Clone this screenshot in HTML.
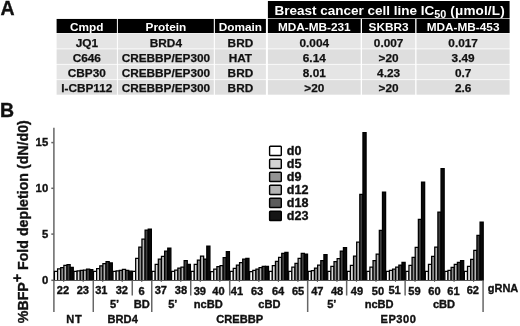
<!DOCTYPE html>
<html><head><meta charset="utf-8"><title>Figure</title>
<style>
html,body{margin:0;padding:0;background:#fff;}
body{width:520px;height:326px;position:relative;overflow:hidden;font-family:"Liberation Sans",sans-serif;font-weight:bold;color:#111;}
.chart{position:absolute;left:0;top:0;}
</style></head><body>
<svg class="chart" width="520" height="326" viewBox="0 0 520 326">
<g stroke="#666" stroke-width="1.5" fill="none">
<line x1="53.9" y1="127.7" x2="53.9" y2="312"/>
<line x1="63.66" y1="280.0" x2="63.66" y2="281.9" stroke-width="1.1"/>
<line x1="83.18" y1="280.0" x2="83.18" y2="281.9" stroke-width="1.1"/>
<line x1="102.70" y1="280.0" x2="102.70" y2="281.9" stroke-width="1.1"/>
<line x1="122.22" y1="280.0" x2="122.22" y2="281.9" stroke-width="1.1"/>
<line x1="141.74" y1="280.0" x2="141.74" y2="281.9" stroke-width="1.1"/>
<line x1="161.26" y1="280.0" x2="161.26" y2="281.9" stroke-width="1.1"/>
<line x1="180.78" y1="280.0" x2="180.78" y2="281.9" stroke-width="1.1"/>
<line x1="200.30" y1="280.0" x2="200.30" y2="281.9" stroke-width="1.1"/>
<line x1="219.82" y1="280.0" x2="219.82" y2="281.9" stroke-width="1.1"/>
<line x1="239.34" y1="280.0" x2="239.34" y2="281.9" stroke-width="1.1"/>
<line x1="258.86" y1="280.0" x2="258.86" y2="281.9" stroke-width="1.1"/>
<line x1="278.38" y1="280.0" x2="278.38" y2="281.9" stroke-width="1.1"/>
<line x1="297.90" y1="280.0" x2="297.90" y2="281.9" stroke-width="1.1"/>
<line x1="317.42" y1="280.0" x2="317.42" y2="281.9" stroke-width="1.1"/>
<line x1="336.94" y1="280.0" x2="336.94" y2="281.9" stroke-width="1.1"/>
<line x1="356.46" y1="280.0" x2="356.46" y2="281.9" stroke-width="1.1"/>
<line x1="375.98" y1="280.0" x2="375.98" y2="281.9" stroke-width="1.1"/>
<line x1="395.50" y1="280.0" x2="395.50" y2="281.9" stroke-width="1.1"/>
<line x1="415.02" y1="280.0" x2="415.02" y2="281.9" stroke-width="1.1"/>
<line x1="434.54" y1="280.0" x2="434.54" y2="281.9" stroke-width="1.1"/>
<line x1="454.06" y1="280.0" x2="454.06" y2="281.9" stroke-width="1.1"/>
<line x1="473.58" y1="280.0" x2="473.58" y2="281.9" stroke-width="1.1"/>
<line x1="51.3" y1="280.3" x2="53.9" y2="280.3"/>
<line x1="51.3" y1="234.1" x2="53.9" y2="234.1"/>
<line x1="51.3" y1="188.3" x2="53.9" y2="188.3"/>
<line x1="51.3" y1="142.6" x2="53.9" y2="142.6"/>
<line x1="93.28" y1="280.0" x2="93.28" y2="312"/>
<line x1="151.75" y1="280.0" x2="151.75" y2="312"/>
<line x1="307.67" y1="280.0" x2="307.67" y2="312"/>
<line x1="483.08" y1="280.0" x2="483.08" y2="312"/>
<line x1="132.26" y1="280.0" x2="132.26" y2="295.5"/>
<line x1="190.73" y1="280.0" x2="190.73" y2="295.5"/>
<line x1="229.71" y1="280.0" x2="229.71" y2="295.5"/>
<line x1="346.65" y1="280.0" x2="346.65" y2="295.5"/>
<line x1="405.12" y1="280.0" x2="405.12" y2="295.5"/>
</g>
<g stroke="#000" stroke-width="1.25">
<path d="M54.45 280.2V271.25H57.59V280.2" fill="#ffffff"/>
<path d="M57.59 280.2V268.90H60.73V280.2" fill="#dadada"/>
<path d="M60.73 280.2V267.50H63.87V280.2" fill="#8c8c8c"/>
<path d="M63.87 280.2V265.40H67.01V280.2" fill="#b4b4b4"/>
<path d="M67.01 280.2V264.50H70.15V280.2" fill="#404040"/>
<path d="M70.15 280.2V267.25H73.29V280.2" fill="#0a0a0a"/>
<path d="M73.97 280.2V271.25H77.11V280.2" fill="#ffffff"/>
<path d="M77.11 280.2V270.75H80.25V280.2" fill="#dadada"/>
<path d="M80.25 280.2V270.25H83.39V280.2" fill="#8c8c8c"/>
<path d="M83.39 280.2V270.00H86.53V280.2" fill="#b4b4b4"/>
<path d="M86.53 280.2V269.10H89.67V280.2" fill="#404040"/>
<path d="M89.67 280.2V269.50H92.81V280.2" fill="#0a0a0a"/>
<path d="M93.49 280.2V271.25H96.63V280.2" fill="#ffffff"/>
<path d="M96.63 280.2V268.50H99.77V280.2" fill="#dadada"/>
<path d="M99.77 280.2V265.75H102.91V280.2" fill="#8c8c8c"/>
<path d="M102.91 280.2V263.50H106.05V280.2" fill="#b4b4b4"/>
<path d="M106.05 280.2V261.60H109.19V280.2" fill="#404040"/>
<path d="M109.19 280.2V262.90H112.33V280.2" fill="#0a0a0a"/>
<path d="M113.01 280.2V271.40H116.15V280.2" fill="#ffffff"/>
<path d="M116.15 280.2V270.80H119.29V280.2" fill="#dadada"/>
<path d="M119.29 280.2V270.40H122.43V280.2" fill="#8c8c8c"/>
<path d="M122.43 280.2V269.40H125.57V280.2" fill="#b4b4b4"/>
<path d="M125.57 280.2V270.40H128.71V280.2" fill="#404040"/>
<path d="M128.71 280.2V271.20H131.85V280.2" fill="#0a0a0a"/>
<path d="M132.53 280.2V271.40H135.67V280.2" fill="#ffffff"/>
<path d="M135.67 280.2V258.40H138.81V280.2" fill="#dadada"/>
<path d="M138.81 280.2V247.00H141.95V280.2" fill="#8c8c8c"/>
<path d="M141.95 280.2V239.20H145.09V280.2" fill="#b4b4b4"/>
<path d="M145.09 280.2V230.00H148.23V280.2" fill="#404040"/>
<path d="M148.23 280.2V229.00H151.37V280.2" fill="#0a0a0a"/>
<path d="M152.05 280.2V271.40H155.19V280.2" fill="#ffffff"/>
<path d="M155.19 280.2V264.40H158.33V280.2" fill="#dadada"/>
<path d="M158.33 280.2V259.00H161.47V280.2" fill="#8c8c8c"/>
<path d="M161.47 280.2V256.40H164.61V280.2" fill="#b4b4b4"/>
<path d="M164.61 280.2V251.00H167.75V280.2" fill="#404040"/>
<path d="M167.75 280.2V248.00H170.89V280.2" fill="#0a0a0a"/>
<path d="M171.57 280.2V271.40H174.71V280.2" fill="#ffffff"/>
<path d="M174.71 280.2V270.00H177.85V280.2" fill="#dadada"/>
<path d="M177.85 280.2V268.00H180.99V280.2" fill="#8c8c8c"/>
<path d="M180.99 280.2V267.00H184.13V280.2" fill="#b4b4b4"/>
<path d="M184.13 280.2V260.60H187.27V280.2" fill="#404040"/>
<path d="M187.27 280.2V264.40H190.41V280.2" fill="#0a0a0a"/>
<path d="M191.09 280.2V271.40H194.23V280.2" fill="#ffffff"/>
<path d="M194.23 280.2V264.40H197.37V280.2" fill="#dadada"/>
<path d="M197.37 280.2V260.00H200.51V280.2" fill="#8c8c8c"/>
<path d="M200.51 280.2V256.00H203.65V280.2" fill="#b4b4b4"/>
<path d="M203.65 280.2V259.00H206.79V280.2" fill="#404040"/>
<path d="M206.79 280.2V246.00H209.93V280.2" fill="#0a0a0a"/>
<path d="M210.61 280.2V271.60H213.75V280.2" fill="#ffffff"/>
<path d="M213.75 280.2V269.00H216.89V280.2" fill="#dadada"/>
<path d="M216.89 280.2V266.60H220.03V280.2" fill="#8c8c8c"/>
<path d="M220.03 280.2V265.60H223.17V280.2" fill="#b4b4b4"/>
<path d="M223.17 280.2V257.60H226.31V280.2" fill="#404040"/>
<path d="M226.31 280.2V251.60H229.45V280.2" fill="#0a0a0a"/>
<path d="M230.13 280.2V271.40H233.27V280.2" fill="#ffffff"/>
<path d="M233.27 280.2V268.40H236.41V280.2" fill="#dadada"/>
<path d="M236.41 280.2V265.00H239.55V280.2" fill="#8c8c8c"/>
<path d="M239.55 280.2V262.60H242.69V280.2" fill="#b4b4b4"/>
<path d="M242.69 280.2V259.00H245.83V280.2" fill="#404040"/>
<path d="M245.83 280.2V258.40H248.97V280.2" fill="#0a0a0a"/>
<path d="M249.65 280.2V271.60H252.79V280.2" fill="#ffffff"/>
<path d="M252.79 280.2V270.40H255.93V280.2" fill="#dadada"/>
<path d="M255.93 280.2V269.20H259.07V280.2" fill="#8c8c8c"/>
<path d="M259.07 280.2V267.60H262.21V280.2" fill="#b4b4b4"/>
<path d="M262.21 280.2V266.40H265.35V280.2" fill="#404040"/>
<path d="M265.35 280.2V266.40H268.49V280.2" fill="#0a0a0a"/>
<path d="M269.17 280.2V271.40H272.31V280.2" fill="#ffffff"/>
<path d="M272.31 280.2V265.60H275.45V280.2" fill="#dadada"/>
<path d="M275.45 280.2V261.40H278.59V280.2" fill="#8c8c8c"/>
<path d="M278.59 280.2V257.40H281.73V280.2" fill="#b4b4b4"/>
<path d="M281.73 280.2V253.40H284.87V280.2" fill="#404040"/>
<path d="M284.87 280.2V252.40H288.01V280.2" fill="#0a0a0a"/>
<path d="M288.69 280.2V271.40H291.83V280.2" fill="#ffffff"/>
<path d="M291.83 280.2V267.00H294.97V280.2" fill="#dadada"/>
<path d="M294.97 280.2V263.40H298.11V280.2" fill="#8c8c8c"/>
<path d="M298.11 280.2V258.40H301.25V280.2" fill="#b4b4b4"/>
<path d="M301.25 280.2V253.40H304.39V280.2" fill="#404040"/>
<path d="M304.39 280.2V254.00H307.53V280.2" fill="#0a0a0a"/>
<path d="M308.21 280.2V271.40H311.35V280.2" fill="#ffffff"/>
<path d="M311.35 280.2V270.60H314.49V280.2" fill="#dadada"/>
<path d="M314.49 280.2V268.00H317.63V280.2" fill="#8c8c8c"/>
<path d="M317.63 280.2V265.00H320.77V280.2" fill="#b4b4b4"/>
<path d="M320.77 280.2V260.60H323.91V280.2" fill="#404040"/>
<path d="M323.91 280.2V254.60H327.05V280.2" fill="#0a0a0a"/>
<path d="M327.73 280.2V271.40H330.87V280.2" fill="#ffffff"/>
<path d="M330.87 280.2V266.40H334.01V280.2" fill="#dadada"/>
<path d="M334.01 280.2V261.60H337.15V280.2" fill="#8c8c8c"/>
<path d="M337.15 280.2V258.60H340.29V280.2" fill="#b4b4b4"/>
<path d="M340.29 280.2V251.00H343.43V280.2" fill="#404040"/>
<path d="M343.43 280.2V247.60H346.57V280.2" fill="#0a0a0a"/>
<path d="M347.25 280.2V271.40H350.39V280.2" fill="#ffffff"/>
<path d="M350.39 280.2V265.40H353.53V280.2" fill="#dadada"/>
<path d="M353.53 280.2V256.00H356.67V280.2" fill="#8c8c8c"/>
<path d="M356.67 280.2V242.00H359.81V280.2" fill="#b4b4b4"/>
<path d="M359.81 280.2V194.40H362.95V280.2" fill="#404040"/>
<path d="M362.95 280.2V132.60H366.09V280.2" fill="#0a0a0a"/>
<path d="M366.77 280.2V271.40H369.91V280.2" fill="#ffffff"/>
<path d="M369.91 280.2V267.00H373.05V280.2" fill="#dadada"/>
<path d="M373.05 280.2V260.60H376.19V280.2" fill="#8c8c8c"/>
<path d="M376.19 280.2V254.00H379.33V280.2" fill="#b4b4b4"/>
<path d="M379.33 280.2V230.40H382.47V280.2" fill="#404040"/>
<path d="M382.47 280.2V192.00H385.61V280.2" fill="#0a0a0a"/>
<path d="M386.29 280.2V271.40H389.43V280.2" fill="#ffffff"/>
<path d="M389.43 280.2V270.40H392.57V280.2" fill="#dadada"/>
<path d="M392.57 280.2V269.00H395.71V280.2" fill="#8c8c8c"/>
<path d="M395.71 280.2V267.00H398.85V280.2" fill="#b4b4b4"/>
<path d="M398.85 280.2V265.00H401.99V280.2" fill="#404040"/>
<path d="M401.99 280.2V262.40H405.13V280.2" fill="#0a0a0a"/>
<path d="M405.81 280.2V271.40H408.95V280.2" fill="#ffffff"/>
<path d="M408.95 280.2V265.40H412.09V280.2" fill="#dadada"/>
<path d="M412.09 280.2V257.40H415.23V280.2" fill="#8c8c8c"/>
<path d="M415.23 280.2V247.40H418.37V280.2" fill="#b4b4b4"/>
<path d="M418.37 280.2V219.40H421.51V280.2" fill="#404040"/>
<path d="M421.51 280.2V182.00H424.65V280.2" fill="#0a0a0a"/>
<path d="M425.33 280.2V271.40H428.47V280.2" fill="#ffffff"/>
<path d="M428.47 280.2V264.40H431.61V280.2" fill="#dadada"/>
<path d="M431.61 280.2V256.40H434.75V280.2" fill="#8c8c8c"/>
<path d="M434.75 280.2V247.00H437.89V280.2" fill="#b4b4b4"/>
<path d="M437.89 280.2V212.00H441.03V280.2" fill="#404040"/>
<path d="M441.03 280.2V168.60H444.17V280.2" fill="#0a0a0a"/>
<path d="M444.85 280.2V271.40H447.99V280.2" fill="#ffffff"/>
<path d="M447.99 280.2V270.40H451.13V280.2" fill="#dadada"/>
<path d="M451.13 280.2V267.40H454.27V280.2" fill="#8c8c8c"/>
<path d="M454.27 280.2V264.40H457.41V280.2" fill="#b4b4b4"/>
<path d="M457.41 280.2V262.40H460.55V280.2" fill="#404040"/>
<path d="M460.55 280.2V260.60H463.69V280.2" fill="#0a0a0a"/>
<path d="M464.37 280.2V271.40H467.51V280.2" fill="#ffffff"/>
<path d="M467.51 280.2V266.40H470.65V280.2" fill="#dadada"/>
<path d="M470.65 280.2V259.40H473.79V280.2" fill="#8c8c8c"/>
<path d="M473.79 280.2V250.40H476.93V280.2" fill="#b4b4b4"/>
<path d="M476.93 280.2V235.40H480.07V280.2" fill="#404040"/>
<path d="M480.07 280.2V222.00H483.21V280.2" fill="#0a0a0a"/>
</g>
<line x1="53.199999999999996" y1="280.55" x2="483.9" y2="280.55" stroke="#555" stroke-width="1.1"/>
<g font-family="'Liberation Sans', sans-serif" font-weight="bold" fill="#111" stroke="#111" stroke-width="0.35" text-anchor="middle">
<text x="48.2" y="284.0" font-size="11.3" text-anchor="end">0</text>
<text x="48.2" y="237.79999999999998" font-size="11.3" text-anchor="end">5</text>
<text x="48.2" y="192.0" font-size="11.3" text-anchor="end">10</text>
<text x="48.2" y="146.29999999999998" font-size="11.3" text-anchor="end">15</text>
<text transform="translate(62.9,294.2) scale(1,1.06)" font-size="11.1">22</text>
<text transform="translate(82.8,294.2) scale(1,1.06)" font-size="11.1">23</text>
<text transform="translate(101.3,294.0) scale(1,1.06)" font-size="11.1">31</text>
<text transform="translate(121.8,294.2) scale(1,1.06)" font-size="11.1">32</text>
<text transform="translate(141.6,295.4) scale(1,1.06)" font-size="11.1">6</text>
<text transform="translate(160.8,294.1) scale(1,1.06)" font-size="11.1">37</text>
<text transform="translate(181.0,294.0) scale(1,1.06)" font-size="11.1">38</text>
<text transform="translate(199.8,295.4) scale(1,1.06)" font-size="11.1">39</text>
<text transform="translate(218.5,295.4) scale(1,1.06)" font-size="11.1">40</text>
<text transform="translate(237.0,295.4) scale(1,1.06)" font-size="11.1">41</text>
<text transform="translate(257.1,295.4) scale(1,1.06)" font-size="11.1">63</text>
<text transform="translate(278.1,295.4) scale(1,1.06)" font-size="11.1">64</text>
<text transform="translate(298.1,295.4) scale(1,1.06)" font-size="11.1">65</text>
<text transform="translate(317.3,295.4) scale(1,1.06)" font-size="11.1">47</text>
<text transform="translate(337.1,295.4) scale(1,1.06)" font-size="11.1">48</text>
<text transform="translate(357.0,295.4) scale(1,1.06)" font-size="11.1">49</text>
<text transform="translate(378.0,295.4) scale(1,1.06)" font-size="11.1">50</text>
<text transform="translate(394.6,294.2) scale(1,1.06)" font-size="11.1">51</text>
<text transform="translate(414.5,295.4) scale(1,1.06)" font-size="11.1">59</text>
<text transform="translate(434.5,294.9) scale(1,1.06)" font-size="11.1">60</text>
<text transform="translate(453.5,294.9) scale(1,1.06)" font-size="11.1">61</text>
<text transform="translate(472.8,293.8) scale(1,1.06)" font-size="11.1">62</text>
<text transform="translate(114.5,308.1) scale(1,1.06)" font-size="11.1">5’</text>
<text transform="translate(141.8,308.1) scale(1,1.06)" font-size="11.1">BD</text>
<text transform="translate(172.8,308.1) scale(1,1.06)" font-size="11.1">5’</text>
<text transform="translate(208.3,308.1) scale(1,1.06)" font-size="11.1">ncBD</text>
<text transform="translate(269.3,308.1) scale(1,1.06)" font-size="11.1">cBD</text>
<text transform="translate(331.8,308.1) scale(1,1.06)" font-size="11.1">5’</text>
<text transform="translate(379.1,308.1) scale(1,1.06)" font-size="11.1">ncBD</text>
<text transform="translate(444.0,308.1) scale(1,1.06)" font-size="11.1">cBD</text>
<text transform="translate(74.45,322.7) scale(1,1.06)" font-size="11.1" letter-spacing="0.9">NT</text>
<text transform="translate(122.70,322.7) scale(1,1.06)" font-size="11.1" letter-spacing="0">BRD4</text>
<text transform="translate(239.70,322.7) scale(1,1.06)" font-size="11.1" letter-spacing="0">CREBBP</text>
<text transform="translate(398.45,322.7) scale(1,1.06)" font-size="11.1" letter-spacing="0.5">EP300</text>
<text transform="translate(503,292.2) scale(1,1.06)" font-size="11">gRNA</text>
<text transform="translate(28,323.2) rotate(-90)" font-size="14.2" text-anchor="start">%BFP<tspan dy="-5.6" font-size="14.2">+</tspan><tspan dy="5.6"> Fold depletion (dN/d0)</tspan></text>
<rect x="269.6" y="146.25" width="11.7" height="9.2" rx="0.8" fill="#ffffff" stroke="#000" stroke-width="1.4"/>
<text x="286.8" y="155.15" font-size="12.6" text-anchor="start">d0</text>
<rect x="269.6" y="159.25" width="11.7" height="9.2" rx="0.8" fill="#d4d4d4" stroke="#000" stroke-width="1.4"/>
<text x="286.8" y="168.15" font-size="12.6" text-anchor="start">d5</text>
<rect x="269.6" y="172.25" width="11.7" height="9.2" rx="0.8" fill="#949494" stroke="#000" stroke-width="1.4"/>
<text x="286.8" y="181.15" font-size="12.6" text-anchor="start">d9</text>
<rect x="269.6" y="185.25" width="11.7" height="9.2" rx="0.8" fill="#b4b4b4" stroke="#000" stroke-width="1.4"/>
<text x="286.8" y="194.15" font-size="12.6" text-anchor="start">d12</text>
<rect x="269.6" y="198.25" width="11.7" height="9.2" rx="0.8" fill="#5c5c5c" stroke="#000" stroke-width="1.4"/>
<text x="286.8" y="207.15" font-size="12.6" text-anchor="start">d18</text>
<rect x="269.6" y="211.25" width="11.7" height="9.2" rx="0.8" fill="#151515" stroke="#000" stroke-width="1.4"/>
<text x="286.8" y="220.15" font-size="12.6" text-anchor="start">d23</text>
<text x="0.6" y="15.2" font-size="19.5" text-anchor="start">A</text>
<text x="0" y="117" font-size="19.5" text-anchor="start">B</text>
</g>
</svg>
<svg class="chart" width="520" height="326" viewBox="0 0 520 326">
<rect x="267.9" y="1.0" width="241.7" height="17.3" fill="#000"/>
<rect x="56.6" y="18.95" width="60.3" height="14.1" fill="#000"/>
<rect x="117.9" y="18.95" width="95.9" height="14.1" fill="#000"/>
<rect x="214.9" y="18.95" width="51.0" height="14.1" fill="#000"/>
<rect x="267.9" y="18.95" width="92.8" height="14.1" fill="#000"/>
<rect x="362.0" y="18.95" width="53.2" height="14.1" fill="#000"/>
<rect x="416.5" y="18.95" width="93.1" height="14.1" fill="#000"/>
<rect x="56.6" y="33.8" width="60.3" height="14.7" fill="#e5e5e5"/>
<rect x="117.9" y="33.8" width="95.9" height="14.7" fill="#e5e5e5"/>
<rect x="214.9" y="33.8" width="51.0" height="14.7" fill="#e5e5e5"/>
<rect x="267.9" y="33.8" width="92.8" height="14.7" fill="#e5e5e5"/>
<rect x="362.0" y="33.8" width="53.2" height="14.7" fill="#e5e5e5"/>
<rect x="416.5" y="33.8" width="93.1" height="14.7" fill="#e5e5e5"/>
<rect x="56.6" y="49.3" width="60.3" height="14.6" fill="#dedede"/>
<rect x="117.9" y="49.3" width="95.9" height="14.6" fill="#dedede"/>
<rect x="214.9" y="49.3" width="51.0" height="14.6" fill="#dedede"/>
<rect x="267.9" y="49.3" width="92.8" height="14.6" fill="#dedede"/>
<rect x="362.0" y="49.3" width="53.2" height="14.6" fill="#dedede"/>
<rect x="416.5" y="49.3" width="93.1" height="14.6" fill="#dedede"/>
<rect x="56.6" y="64.7" width="60.3" height="14.6" fill="#e5e5e5"/>
<rect x="117.9" y="64.7" width="95.9" height="14.6" fill="#e5e5e5"/>
<rect x="214.9" y="64.7" width="51.0" height="14.6" fill="#e5e5e5"/>
<rect x="267.9" y="64.7" width="92.8" height="14.6" fill="#e5e5e5"/>
<rect x="362.0" y="64.7" width="53.2" height="14.6" fill="#e5e5e5"/>
<rect x="416.5" y="64.7" width="93.1" height="14.6" fill="#e5e5e5"/>
<rect x="56.6" y="80.1" width="60.3" height="14.6" fill="#dedede"/>
<rect x="117.9" y="80.1" width="95.9" height="14.6" fill="#dedede"/>
<rect x="214.9" y="80.1" width="51.0" height="14.6" fill="#dedede"/>
<rect x="267.9" y="80.1" width="92.8" height="14.6" fill="#dedede"/>
<rect x="362.0" y="80.1" width="53.2" height="14.6" fill="#dedede"/>
<rect x="416.5" y="80.1" width="93.1" height="14.6" fill="#dedede"/>
<g font-family="'Liberation Sans', sans-serif" font-weight="bold" text-anchor="middle" font-size="11.8">
<text x="274.5" y="14.5" font-size="13.5" fill="#fff" text-anchor="start">Breast cancer cell line IC<tspan dy="3.2" font-size="10.8">50</tspan><tspan dy="-3.2" dx="0.1" letter-spacing="0.15"> (μmol/L)</tspan></text>
<text x="86.8" y="31.2" fill="#fff">Cmpd</text>
<text x="165.9" y="31.2" fill="#fff">Protein</text>
<text x="240.4" y="31.2" fill="#fff">Domain</text>
<text x="314.3" y="31.2" fill="#fff">MDA-MB-231</text>
<text x="388.6" y="31.2" fill="#fff">SKBR3</text>
<text x="463.1" y="31.2" fill="#fff">MDA-MB-453</text>
<text x="86.8" y="46.5" fill="#111" stroke="#111" stroke-width="0.25">JQ1</text>
<text x="165.9" y="46.5" fill="#111" stroke="#111" stroke-width="0.25">BRD4</text>
<text x="240.4" y="46.5" fill="#111" stroke="#111" stroke-width="0.25">BRD</text>
<text x="314.3" y="46.5" fill="#111" stroke="#111" stroke-width="0.25">0.004</text>
<text x="388.6" y="46.5" fill="#111" stroke="#111" stroke-width="0.25">0.007</text>
<text x="463.1" y="46.5" fill="#111" stroke="#111" stroke-width="0.25">0.017</text>
<text x="86.8" y="61.6" fill="#111" stroke="#111" stroke-width="0.25">C646</text>
<text x="165.9" y="61.6" fill="#111" stroke="#111" stroke-width="0.25">CREBBP/EP300</text>
<text x="240.4" y="61.6" fill="#111" stroke="#111" stroke-width="0.25">HAT</text>
<text x="314.3" y="61.6" fill="#111" stroke="#111" stroke-width="0.25">6.14</text>
<text x="388.6" y="61.6" fill="#111" stroke="#111" stroke-width="0.25">&gt;20</text>
<text x="463.1" y="61.6" fill="#111" stroke="#111" stroke-width="0.25">3.49</text>
<text x="86.8" y="77.2" fill="#111" stroke="#111" stroke-width="0.25">CBP30</text>
<text x="165.9" y="77.2" fill="#111" stroke="#111" stroke-width="0.25">CREBBP/EP300</text>
<text x="240.4" y="77.2" fill="#111" stroke="#111" stroke-width="0.25">BRD</text>
<text x="314.3" y="77.2" fill="#111" stroke="#111" stroke-width="0.25">8.01</text>
<text x="388.6" y="77.2" fill="#111" stroke="#111" stroke-width="0.25">4.23</text>
<text x="463.1" y="77.2" fill="#111" stroke="#111" stroke-width="0.25">0.7</text>
<text x="86.8" y="92.4" fill="#111" stroke="#111" stroke-width="0.25">I-CBP112</text>
<text x="165.9" y="92.4" fill="#111" stroke="#111" stroke-width="0.25">CREBBP/EP300</text>
<text x="240.4" y="92.4" fill="#111" stroke="#111" stroke-width="0.25">BRD</text>
<text x="314.3" y="92.4" fill="#111" stroke="#111" stroke-width="0.25">&gt;20</text>
<text x="388.6" y="92.4" fill="#111" stroke="#111" stroke-width="0.25">&gt;20</text>
<text x="463.1" y="92.4" fill="#111" stroke="#111" stroke-width="0.25">2.6</text>
</g></svg>
</body></html>
